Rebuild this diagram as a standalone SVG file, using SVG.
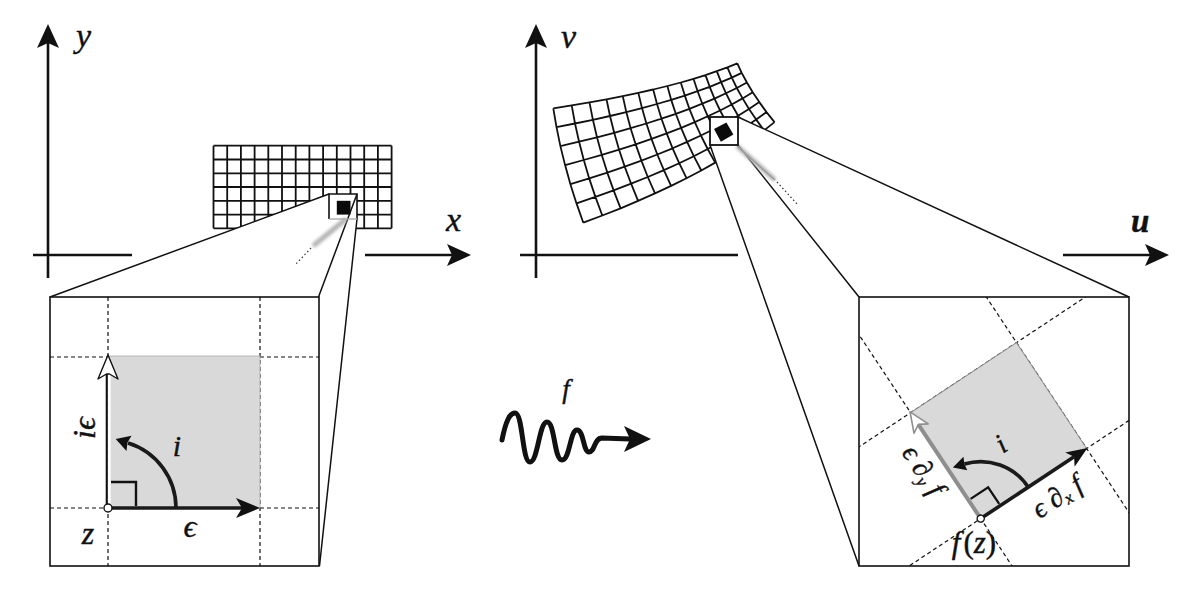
<svg xmlns="http://www.w3.org/2000/svg" width="1200" height="612" viewBox="0 0 1200 612">
<style>
.ax{stroke:#111;stroke-width:2.6;fill:none}
.ah{fill:#111}
.grid{stroke:#111;stroke-width:1.8;fill:none;stroke-linejoin:round}
.fr{stroke:#111;stroke-width:1.5;fill:none}
.wh{fill:#fff;stroke:none}
.box{fill:#fff;stroke:#111;stroke-width:1.6}
.dash{stroke:#111;stroke-width:1.2;stroke-dasharray:4 3;fill:none}
.sq{fill:#d9d9d9}
.vec{stroke:#1a1a1a;stroke-width:3.6;fill:none}
.lbl{font-family:"Liberation Serif","DejaVu Serif",serif;font-style:italic;fill:#111;stroke:#111;stroke-width:0.4}
.ray{stroke:#b5b5b5;stroke-width:5;fill:none;filter:url(#blur)}
.dot{stroke:#333;stroke-width:1.2;stroke-dasharray:1.5 2.5;fill:none}
</style>
<defs>
<filter id="blur" x="-50%" y="-50%" width="200%" height="200%"><feGaussianBlur stdDeviation="1.6"/></filter>
<clipPath id="clipL"><rect x="50" y="297" width="269" height="269"/></clipPath>
<clipPath id="clipR"><rect x="859" y="297" width="270" height="269"/></clipPath>
</defs>
<rect width="1200" height="612" fill="#fff"/>

<g id="left-plane">
  <path class="ax" d="M48,43V278 M33,255H132 M365,255H452"/>
  <polygon class="ah" points="48,24 59,48 48,43 37,48"/>
  <polygon class="ah" points="471,255 447,244 452,255 447,266"/>
  <text class="lbl" x="76" y="47" font-size="34">y</text>
  <text class="lbl" x="446" y="231" font-size="34">x</text>
  <path class="grid" d="M213.5,145.7V228.3 M227.2,145.7V228.3 M240.9,145.7V228.3 M254.6,145.7V228.3 M268.3,145.7V228.3 M282,145.7V228.3 M295.7,145.7V228.3 M309.4,145.7V228.3 M323.1,145.7V228.3 M336.8,145.7V228.3 M350.5,145.7V228.3 M364.2,145.7V228.3 M377.9,145.7V228.3 M391.6,145.7V228.3 M213.5,145.7H391.6 M213.5,159.5H391.6 M213.5,173.3H391.6 M213.5,187H391.6 M213.5,200.8H391.6 M213.5,214.6H391.6 M213.5,228.3H391.6"/>
</g>

<g id="right-plane">
  <path class="ax" d="M536,43V278 M520,255H738 M1063,255H1150"/>
  <polygon class="ah" points="536,24 547,48 536,43 525,48"/>
  <polygon class="ah" points="1169,255 1145,244 1150,255 1145,266"/>
  <text class="lbl" x="561" y="48" font-size="34">v</text>
  <text class="lbl" x="1131" y="232" font-size="33" font-weight="bold">u</text>
  <path class="grid" d="
M553.3,108.3 571.7,105.4 589.5,102.4 606.5,99.3 622.8,96.1 638.3,92.8 653.2,89.5 667.4,86.0 680.8,82.5 693.5,78.8 705.5,75.1 716.8,71.2 727.4,67.3 737.3,63.3
M556.5,127.1 575.0,123.5 592.9,119.8 610.0,116.0 626.3,112.1 642.0,108.1 657.0,104.0 671.2,99.9 684.8,95.6 697.6,91.2 709.7,86.8 721.1,82.2 731.8,77.6 741.7,72.9
M560.4,146.1 579.1,141.7 597.0,137.3 614.2,132.8 630.6,128.2 646.4,123.5 661.5,118.7 675.8,113.8 689.4,108.8 702.3,103.7 714.5,98.6 726.0,93.3 736.8,88.0 746.9,82.5
M565.1,165.1 583.8,160.0 601.8,154.9 619.1,149.7 635.7,144.4 651.5,138.9 666.7,133.4 681.1,127.8 694.8,122.1 707.8,116.3 720.1,110.5 731.7,104.5 742.6,98.4 752.7,92.3
M570.4,184.2 589.2,178.4 607.3,172.6 624.7,166.6 641.4,160.6 657.3,154.5 672.6,148.3 687.1,141.9 700.9,135.5 714.0,129.0 726.4,122.4 738.1,115.8 749.0,109.0 759.3,102.1
M576.5,203.4 595.4,196.9 613.6,190.4 631.1,183.7 647.8,177.0 663.9,170.1 679.2,163.2 693.8,156.2 707.7,149.0 720.9,141.8 733.4,134.5 745.2,127.1 756.2,119.6 766.5,112.1
M583.3,222.7 602.3,215.5 620.6,208.3 638.1,200.9 655.0,193.4 671.1,185.9 686.5,178.2 701.3,170.5 715.2,162.6 728.5,154.7 741.1,146.7 753.0,138.6 764.1,130.4 774.5,122.1
M553.3,108.3 556.5,127.1 560.4,146.1 565.1,165.1 570.4,184.2 576.5,203.4 583.3,222.7
M571.7,105.4 575.0,123.5 579.1,141.7 583.8,160.0 589.2,178.4 595.4,196.9 602.3,215.5
M589.5,102.4 592.9,119.8 597.0,137.3 601.8,154.9 607.3,172.6 613.6,190.4 620.6,208.3
M606.5,99.3 610.0,116.0 614.2,132.8 619.1,149.7 624.7,166.6 631.1,183.7 638.1,200.9
M622.8,96.1 626.3,112.1 630.6,128.2 635.7,144.4 641.4,160.6 647.8,177.0 655.0,193.4
M638.3,92.8 642.0,108.1 646.4,123.5 651.5,138.9 657.3,154.5 663.9,170.1 671.1,185.9
M653.2,89.5 657.0,104.0 661.5,118.7 666.7,133.4 672.6,148.3 679.2,163.2 686.5,178.2
M667.4,86.0 671.2,99.9 675.8,113.8 681.1,127.8 687.1,141.9 693.8,156.2 701.3,170.5
M680.8,82.5 684.8,95.6 689.4,108.8 694.8,122.1 700.9,135.5 707.7,149.0 715.2,162.6
M693.5,78.8 697.6,91.2 702.3,103.7 707.8,116.3 714.0,129.0 720.9,141.8 728.5,154.7
M705.5,75.1 709.7,86.8 714.5,98.6 720.1,110.5 726.4,122.4 733.4,134.5 741.1,146.7
M716.8,71.2 721.1,82.2 726.0,93.3 731.7,104.5 738.1,115.8 745.2,127.1 753.0,138.6
M727.4,67.3 731.8,77.6 736.8,88.0 742.6,98.4 749.0,109.0 756.2,119.6 764.1,130.4
M737.3,63.3 741.7,72.9 746.9,82.5 752.7,92.3 759.3,102.1 766.5,112.1 774.5,122.1"/>
</g>

<g id="connectors">
  <polygon class="wh" points="329,194 357,194 357,219 319.5,566 50,566 50,297"/>
  <polygon class="wh" points="710,117 738,117 1129,297 1129,566 859,566 710,145"/>
  <path class="fr" d="M329,194L50,297 M357,194L318.5,297 M357,219L319.5,566"/>
  <path class="fr" d="M738,117L1129,297 M710,145L859,566 M738,145L859,297"/>
  <line class="ray" x1="346" y1="219" x2="313" y2="246"/>
  <line class="dot" x1="311" y1="248" x2="296" y2="264"/>
  <line class="ray" x1="737" y1="146" x2="775" y2="180"/>
  <line x1="737" y1="146" x2="775" y2="180" stroke="#9a9a9a" stroke-width="1.2"/>
  <line class="dot" x1="777" y1="182" x2="798" y2="205"/>
</g>

<g id="left-probe">
  <path d="M329,219V194H357V219" fill="none" stroke="#111" stroke-width="1.6"/>
  <path d="M329,219H357" stroke="#aaa" stroke-width="1.4"/>
  <rect x="336.8" y="200.8" width="13.7" height="13.8" fill="#0a0a0a"/>
</g>

<g id="right-probe">
  <rect x="710" y="117" width="28" height="28" fill="none" stroke="#111" stroke-width="1.8"/>
  <polygon points="714,129 726.4,122.4 733.4,134.5 720.9,141.8" fill="#0a0a0a"/>
</g>

<g id="left-zoom">
  <rect class="box" x="50" y="297" width="269" height="269"/>
  <g clip-path="url(#clipL)">
    <path class="dash" d="M108,297V566 M260,297V566 M50,357H319 M50,508H319"/>
  </g>
  <g transform="translate(108,508)">
    <rect class="sq" x="0" y="-152" width="152" height="152" stroke="#a8a8a8" stroke-width="0.8"/>
    <path d="M3,-26H28V-2" fill="none" stroke="#111" stroke-width="2.4"/>
    <path class="vec" d="M68,0 A68,68 0 0 0 20,-65"/>
    <polygon class="ah" points="7.7,-69 23.5,-72.3 19.5,-65.5 18.5,-57.1"/>
    <path d="M-1.2,0V-136" stroke="#111" stroke-width="2.2"/>
    <path d="M1.3,0V-134" stroke="#fff" stroke-width="2.8"/>
    <polygon points="0,-153 10,-129 1.5,-134 -1.5,-134 -10,-129" fill="#fff" stroke="#111" stroke-width="1.4" stroke-linejoin="round"/>
    <path class="vec" d="M0,0H134"/>
    <polygon class="ah" points="152,0 128,-10 134,0 128,10"/>
    <circle cx="0" cy="0" r="4" fill="#fff" stroke="#111" stroke-width="1.4"/>
  </g>
  <text class="lbl" font-size="32" text-anchor="middle" transform="translate(95,428) rotate(-90)">iϵ</text>
  <text class="lbl" x="177" y="456" font-size="30" text-anchor="middle">i</text>
  <text class="lbl" x="88" y="544" font-size="32" text-anchor="middle">z</text>
  <text class="lbl" x="190" y="537" font-size="32" text-anchor="middle" font-style="normal">ϵ</text>
</g>

<g id="map-arrow">
  <text class="lbl" x="566" y="398" font-size="27" text-anchor="middle">f</text>
  <path d="M502,440 C506,420 510,413 515,413 C523,413 522,462 530,462 C538,462 539,422 547,422 C555,422 554,460 562,460 C570,460 570,430 577,430 C584,430 583,452 589,452 C595,452 594,438 602,438 L630,439" fill="none" stroke="#111" stroke-width="5" stroke-linecap="round" stroke-linejoin="round"/>
  <polygon class="ah" points="651,439 624,426 630,439 624,452"/>
</g>

<g id="right-zoom">
  <rect class="box" x="859" y="297" width="270" height="269"/>
  <g clip-path="url(#clipR)">
    <g transform="translate(980.7,518.6) rotate(-33.5)">
      <path class="dash" d="M0,-400V400 M127,-400V400 M-400,0H400 M-400,-127H400"/>
    </g>
  </g>
  <g transform="translate(980.7,518.6) rotate(-33.5)">
    <rect class="sq" x="0" y="-127" width="127" height="127" stroke="#8a8a8a" stroke-width="1"/>
    <path d="M2.5,-22H23.5V-2" fill="none" stroke="#111" stroke-width="2.2"/>
    <path class="vec" d="M57,0 A57,57 0 0 0 16.5,-54.5"/>
    <polygon class="ah" points="5,-58 19.7,-61 16.5,-54.5 15.5,-47.8"/>
    <path d="M0,0V-114" stroke="#8e8e8e" stroke-width="4"/>
    <polygon points="0,-128 8.5,-108 0,-113 -8.5,-108" fill="#fff" stroke="#8e8e8e" stroke-width="1.6" stroke-linejoin="round"/>
    <path class="vec" d="M0,0H112"/>
    <polygon class="ah" points="128,0 107,-8.5 112,0 107,8.5"/>
    <circle cx="0" cy="0" r="3.6" fill="#fff" stroke="#111" stroke-width="1.3"/>
    <text class="lbl" x="58" y="-42" font-size="28" text-anchor="middle" font-style="normal">i</text>
    <text class="lbl" x="76" y="33" font-size="28" text-anchor="middle" font-style="normal">ϵ ∂<tspan font-size="17" dy="4">x</tspan><tspan dy="-4" font-style="italic"> f</tspan></text>
    <text class="lbl" font-size="28" text-anchor="middle" font-style="normal" transform="translate(-30,-72) rotate(90)">ϵ ∂<tspan font-size="17" dy="4">y</tspan><tspan dy="-4" font-style="italic"> f</tspan></text>
  </g>
  <text class="lbl" x="974" y="553" font-size="31" text-anchor="middle">f<tspan dx="3" font-style="normal">(</tspan>z<tspan font-style="normal">)</tspan></text>
</g>
</svg>
